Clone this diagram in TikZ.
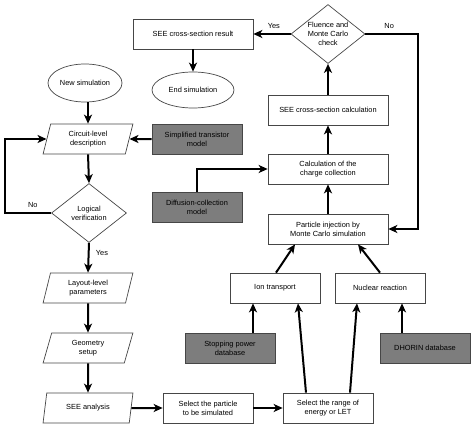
\documentclass[tikz,border=0pt]{standalone}
\usepackage{fontspec}
\setmainfont{Liberation Sans}
\usetikzlibrary{shapes.geometric,arrows.meta}
\definecolor{boxgray}{RGB}{125,125,125}
\definecolor{edgegray}{RGB}{70,70,70}
\begin{document}
\begin{tikzpicture}[x=1pt,y=-1pt,
  base/.style={draw=edgegray,line width=0.7pt,align=center,font=\fontsize{7.4}{9}\selectfont,inner sep=1pt},
  rbox/.style={base,rectangle,minimum width=120pt,minimum height=30pt},
  sbox/.style={base,rectangle,minimum width=90pt,minimum height=30pt},
  gbox/.style={sbox,fill=boxgray},
  pbox/.style={base,trapezium,trapezium left angle=77,trapezium right angle=103,trapezium stretches=true,minimum width=90pt,minimum height=30pt},
  ebox/.style={base,ellipse,inner sep=0pt},
  dbox/.style={base,diamond,aspect=1.25,inner sep=0pt},
  conn/.style={line width=2pt,-{Stealth[length=9pt,width=8pt,inset=2.5pt]}},
  lbl/.style={font=\fontsize{7.4}{9}\selectfont}
]
\useasboundingbox (0,0) rectangle (474,428);
% left column
\node[ebox,minimum width=74pt,minimum height=38pt] (ns) at (85,83) {New simulation};
\node[pbox] (cld) at (88,139) {Circuit-level\\description};
\node[dbox,minimum width=75pt,minimum height=59pt] (lv) at (89,213) {Logical\\verification};
\node[pbox] (llp) at (88,288) {Layout-level\\parameters};
\node[pbox] (gs) at (88,348) {Geometry\\setup};
\node[pbox] (sa) at (88,408) {SEE analysis};
% gray models
\node[gbox] (stm) at (197,139) {Simplified transistor\\model};
\node[gbox] (dcm) at (197,207) {Diffusion-collection\\model};
\node[gbox] (spd) at (230,348) {Stopping power\\database};
\node[gbox] (dh) at (425,348) {DHORIN database};
% top
\node[rbox] (ser) at (193,34) {SEE cross-section result};
\node[ebox,minimum width=82pt,minimum height=36pt] (es) at (193,90) {End simulation};
\node[dbox,minimum width=74pt,minimum height=59pt] (fmc) at (328,34) {Fluence and\\Monte Carlo\\check};
% right column
\node[rbox] (scc) at (328,110) {SEE cross-section calculation};
\node[rbox] (ccc) at (328,169) {Calculation of the\\charge collection};
\node[rbox] (pi) at (328,229) {Particle injection by\\Monte Carlo simulation};
\node[sbox] (it) at (275,288) {Ion transport};
\node[sbox] (nr) at (380,288) {Nuclear reaction};
% bottom
\node[sbox] (sp) at (208,408) {Select the particle\\to be simulated};
\node[sbox] (sr) at (328,408) {Select the range of\\energy or LET};
% connectors
\draw[conn] (cld.north |- ns.south) -- (cld.north);
\draw[conn] (cld.south) -- (lv.north);
\draw[conn] (lv.south) -- node[lbl,right=3pt,pos=0.35] {Yes} (llp.north);
\draw[conn] (lv.west) -- node[lbl,above=1pt,pos=0.4] {No} ++(-46,0) |- (cld.west);
\draw[conn] (llp.south) -- (gs.north);
\draw[conn] (gs.south) -- (sa.north);
\draw[conn] (sa.east) -- (sp.west);
\draw[conn] (sp.east) -- (sr.west);
\draw[conn] (stm.west) -- (cld.east);
\draw[conn] (dcm.north) |- (ccc.west);
\draw[conn] ([xshift=-22pt]sr.north) -- ([xshift=23pt]it.south);
\draw[conn] ([xshift=22pt]sr.north) -- ([xshift=-23pt]nr.south);
\draw[conn] ([xshift=23pt]spd.north) -- ([xshift=23pt]spd.north |- it.south);
\draw[conn] ([xshift=-23pt]dh.north) -- ([xshift=-23pt]dh.north |- nr.south);
\draw[conn] ([xshift=1pt]it.north) -- ([xshift=-33pt]pi.south);
\draw[conn] (nr.north) -- ([xshift=30pt]pi.south);
\draw[conn] (pi.north) -- (ccc.south);
\draw[conn] (ccc.north) -- (scc.south);
\draw[conn] (scc.north) -- (fmc.south);
\draw[conn] (fmc.west) -- node[lbl,above=1pt,pos=0.45] {Yes} (ser.east);
\draw[conn] (ser.south) -- (es.north);
\draw[conn] (fmc.east) -- node[lbl,above=1pt,pos=0.45] {No} ++(53,0) |- (pi.east);
\end{tikzpicture}
\end{document}
